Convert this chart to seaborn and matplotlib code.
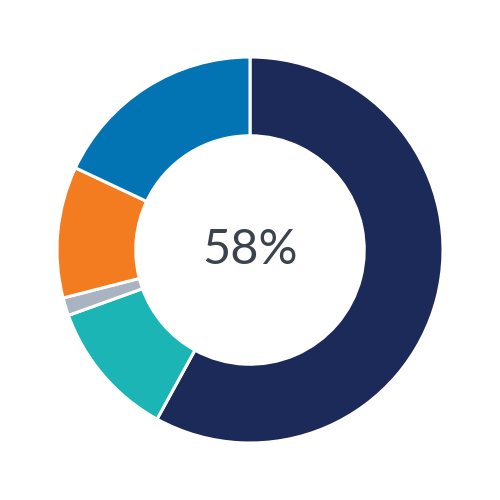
import matplotlib
matplotlib.use("Agg")
import matplotlib.pyplot as plt
import seaborn as sns

# slices, clockwise from the top
labels = ["Navy", "Teal", "Gray", "Orange", "Blue"]
shares = [58, 11.5, 1.5, 11, 18]
colors = ["#1c2a5a", "#1bb5b6", "#a9b3c1", "#f37b20", "#0274b3"]

sns.set_theme(style="white")
plt.rcParams["font.family"] = ["Lato", "DejaVu Sans"]

fig, ax = plt.subplots(figsize=(5, 5), dpi=100)
fig.subplots_adjust(left=0, right=1, bottom=0, top=1)

ax.pie(shares, colors=colors, startangle=90, counterclock=False,
       radius=0.772,
       wedgeprops=dict(width=0.315, edgecolor="white", linewidth=2.2))

ax.text(0, 0, f"{shares[0]}%", ha="center", va="center",
        fontsize=35, color="#3c434d", fontweight="normal")

ax.set_xlim(-1, 1)
ax.set_ylim(-1, 1)
ax.set_aspect("equal")
ax.axis("off")

fig.savefig("out.png", dpi=100, facecolor="white")
